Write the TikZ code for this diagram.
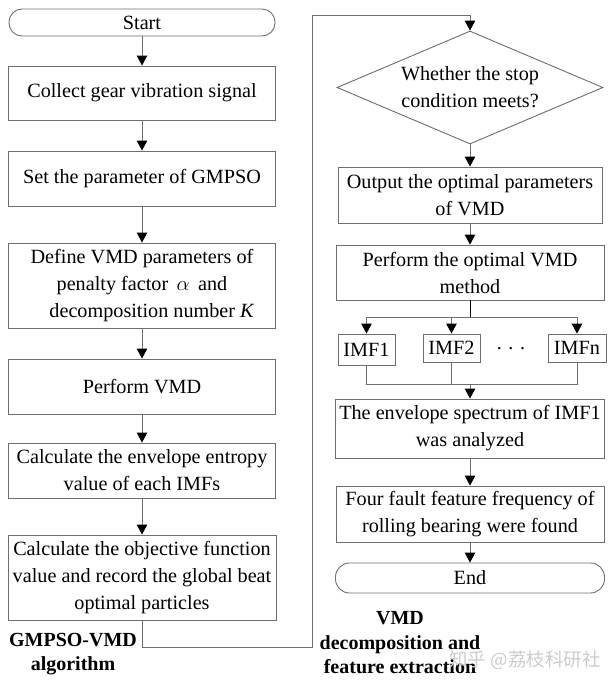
\documentclass[tikz,border=0pt]{standalone}
\usepackage{fontspec}
\setmainfont{Liberation Serif}
\newfontfamily\cjk{Noto Sans CJK SC}
\usetikzlibrary{arrows.meta,shapes.geometric}
\definecolor{boxgray}{HTML}{6E6E6E}
\tikzset{
  box/.style={draw=boxgray,line width=0.9pt,align=center,inner sep=0pt,font=\fontsize{20.2}{27}\selectfont},
  lab/.style={align=center,inner sep=0pt,font=\fontsize{20}{24.5}\selectfont\bfseries},
  flow/.style={draw=boxgray,line width=0.9pt},
  arr/.style={flow,-{Triangle[length=10pt,width=10.5pt,color=black]}}
}
\begin{document}
\begin{tikzpicture}[x=1pt,y=-1pt]
\useasboundingbox (0,0) rectangle (613,686);
% left column
\node[box,rounded corners=13pt,minimum width=266pt,minimum height=27pt] (start) at (142,22.5) {Start};
\node[box,minimum width=267pt,minimum height=54pt] (collect) at (142,93) {Collect gear vibration signal};
\node[box,minimum width=267pt,minimum height=55pt] (set) at (142,178.5) {Set the parameter of GMPSO};
\node[box,minimum width=267pt,minimum height=85pt] (define) at (142,285.5) {Define VMD parameters of\\penalty factor \,$\alpha$\, and\\\hspace*{20pt}decomposition number \textit{K}};
\node[box,minimum width=267pt,minimum height=55pt] (vmd) at (142,386.5) {Perform VMD};
\node[box,minimum width=267pt,minimum height=55pt] (entropy) at (142,470.5) {Calculate the envelope entropy\\value of each IMFs};
\node[box,minimum width=268pt,minimum height=85pt] (objective) at (142,577.5) {Calculate the objective function\\value and record the global beat\\optimal particles};
% right column
\node[box,shape=diamond,aspect=2.35,minimum width=266pt,minimum height=113pt] (stop) at (470,87.5) {Whether the stop\\condition meets?};
\node[box,minimum width=264pt,minimum height=56pt] (output) at (470,195) {Output the optimal parameters\\of VMD};
\node[box,minimum width=268pt,minimum height=55pt] (optimal) at (470,272.5) {Perform the optimal VMD\\method};
\node[box,minimum width=57pt,minimum height=31pt] (imf1) at (366.5,349.5) {IMF1};
\node[box,minimum width=57pt,minimum height=28pt] (imf2) at (451.5,348) {IMF2};
\node[box,minimum width=58pt,minimum height=28pt] (imfn) at (577,348) {IMFn};
\node[inner sep=0pt,font=\fontsize{20}{27}\selectfont] (dots) at (511,349) {. . .};
\node[box,minimum width=269pt,minimum height=59pt] (envelope) at (470,428.5) {The envelope spectrum of IMF1\\was analyzed};
\node[box,minimum width=268pt,minimum height=56pt] (fault) at (470,514) {Four fault feature frequency of\\rolling bearing were found};
\node[box,rounded corners=14pt,minimum width=269pt,minimum height=30pt] (end) at (470,578) {End};
% labels
\node[lab] (algo) at (73,654) {GMPSO-VMD\\algorithm};
\node[lab] (feat) at (400,643) {VMD\\decomposition and\\feature extraction};
\node[inner sep=0pt,text=black!20,font=\fontsize{18.5}{22}\selectfont] (mark) at (525,660) {{\cjk 知乎 @荔枝科研社}};
% junctions
\coordinate (lb) at (312,647);
\coordinate (lt) at (312,15);
\coordinate (split) at (470,317);
\coordinate (merge) at (470,384);
% connectors
\draw[arr] (start) -- (collect);
\draw[arr] (collect) -- (set);
\draw[arr] (set) -- (define);
\draw[arr] (define) -- (vmd);
\draw[arr] (vmd) -- (entropy);
\draw[arr] (entropy) -- (objective);
\draw[arr] (objective.south) |- (lb) -- (lt) -| (stop.north);
\draw[arr] (stop.south) -- (output.north);
\draw[arr] (output) -- (optimal);
\draw[flow,draw=black] (optimal.south) -- (split);
\draw[arr] (split) -| (imf1.north);
\draw[arr] (split) -| (imf2.north);
\draw[arr] (split) -| (imfn.north);
\draw[flow] (imf1.south) |- (merge);
\draw[flow] (imf2.south) |- (merge);
\draw[flow] (imfn.south) |- (merge);
\draw[arr] (merge) -- (envelope.north);
\draw[arr] (envelope) -- (fault);
\draw[arr] (fault) -- (end);
\end{tikzpicture}
\end{document}
